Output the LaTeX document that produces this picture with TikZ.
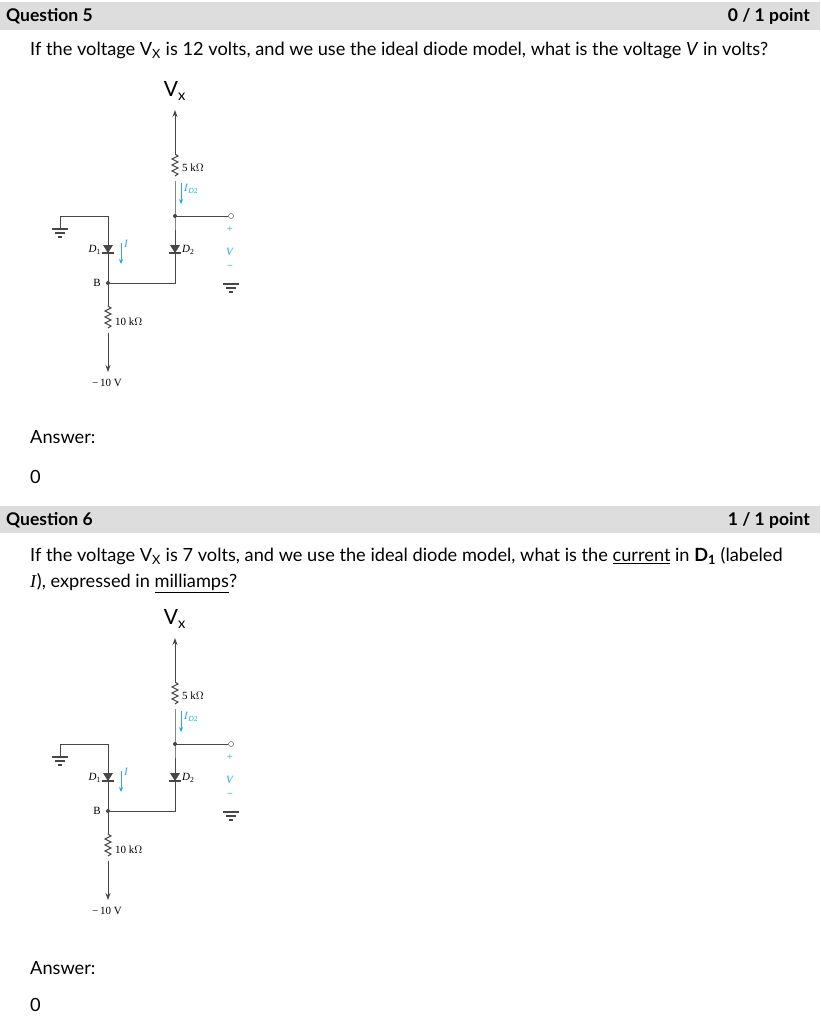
\documentclass[tikz,border=0pt]{standalone}
\usepackage{fontspec}
\setmainfont{Lato}
\newfontfamily\ckt{Liberation Serif}
\usetikzlibrary{arrows.meta}
\definecolor{hdr}{RGB}{221,221,221}
\definecolor{lblue}{RGB}{40,170,225}
\definecolor{wire}{RGB}{70,70,70}
\tikzset{
  w/.style={draw=wire,line width=1pt},
  lbl/.style={font=\ckt\fontsize{11}{12}\selectfont,inner sep=1pt},
  blbl/.style={lbl,text=lblue},
  qtext/.style={anchor=west,inner sep=0pt,font=\fontsize{18.2}{22}\selectfont},
  hfont/.style={font=\bfseries\fontsize{17.5}{20}\selectfont},
  dot/.style={circle,fill=wire,inner sep=0pt,minimum size=4pt},
}
\newcommand{\zig}[3]{% x, ytop, ybot
  \draw[w] (#1,#2) -- ++(3,2) -- ++(-6,3) -- ++(6,3) -- ++(-6,3) -- ++(6,3) -- ++(-6,3) -- ++(6,3) -- ++(-3,2);}
\newcommand{\diode}[2]{% x,y centre, points down
  \fill[wire] (#1-5,#2-4) -- (#1+5,#2-4) -- (#1,#2+4) -- cycle;
  \draw[wire,line width=1.3pt] (#1-6,#2+4) -- (#1+6,#2+4);}
\newcommand{\gnd}[2]{%
  \draw[wire,line width=1.2pt] (#1-8,#2) -- (#1+8,#2) (#1-5,#2+4) -- (#1+5,#2+4) (#1-2,#2+8) -- (#1+2,#2+8);}
\newcommand{\circuit}{%
  \node (vx) at (175,91) {\fontsize{21}{23}\selectfont V\textsubscript{x}};
  \coordinate (top) at (175,110);
  \coordinate (r1t) at (175,154);
  \coordinate (r1b) at (175,181);
  \coordinate (j) at (175,216);
  \node[circle,draw=wire,inner sep=0pt,minimum size=5pt,fill=white] (term) at (231,216) {};
  \coordinate (d2) at (175,249);
  \coordinate (bj) at (175,283);
  \node[dot] (b) at (108,283) {};
  \coordinate (d1) at (108,249);
  \coordinate (lt) at (108,216);
  \coordinate (lg) at (60,216);
  \coordinate (r2t) at (108,306);
  \coordinate (r2b) at (108,333);
  \coordinate (bot) at (108,372);
  \draw[w,-{Stealth[length=7pt,width=5pt]}] (r1t) -- (top);
  \zig{175}{154}{181}
  \draw[w] (r1b) -- (j) -- (175,245);
  \node[dot] at (j) {};
  \draw[w] (j) -- (term);
  \diode{175}{249}
  \draw[w] (175,253) -- (bj) -- (b);
  \draw[w] (lg) -- (lt) -- (108,245);
  \draw[w] (lg) -- (60,229);
  \gnd{60}{229}
  \diode{108}{249}
  \draw[w] (108,253) -- (b) -- (r2t);
  \zig{108}{306}{333}
  \draw[w,-{Stealth[length=7pt,width=5pt]}] (r2b) -- (bot);
  \gnd{231}{284}
  \node[lbl,anchor=west] at (181,168) {5 k$\Omega$};
  \node[lbl,anchor=west] at (114,322) {10 k$\Omega$};
  \node[lbl] at (107,383) {\textminus\,10 V};
  \node[lbl,anchor=east] at (102,250) {\textit{D}\textsubscript{1}};
  \node[lbl,anchor=west] at (181,250) {\textit{D}\textsubscript{2}};
  \node[lbl,anchor=east] at (102,283) {B};
  \draw[lblue,line width=1pt,-{Stealth[length=5pt,width=4pt]}] (181,183) -- (181,204);
  \node[blbl,anchor=west] at (183,189) {\textit{I}\textsubscript{\textit{D}2}};
  \draw[lblue,line width=1pt,-{Stealth[length=5pt,width=4pt]}] (121,243) -- (121,264);
  \node[blbl,anchor=west] at (123,244) {\textit{I}};
  \node[blbl] at (230,229) {+};
  \node[blbl] at (230,252) {\textit{V}};
  \node[blbl] at (230,268) {\textminus};
}
\begin{document}
\begin{tikzpicture}[x=1pt,y=-1pt]
\useasboundingbox (0,0) rectangle (820,1020);
\fill[white] (0,0) rectangle (820,1020);
% Question 5
\fill[hdr] (0,2) rectangle (820,30);
\node[anchor=west,inner sep=0pt,hfont] (q5) at (6,16) {Question 5};
\node[anchor=east,inner sep=0pt,hfont] (p5) at (810,16) {0 / 1 point};
\node[qtext] (t5) at (30,50) {If the voltage V\textsubscript{X} is 12 volts, and we use the ideal diode model, what is the voltage \textit{V} in volts?};
\begin{scope}[name prefix=a-]\circuit\end{scope}
\node[qtext] (a5) at (30,437) {Answer:};
\node[qtext] (z5) at (30,477) {0};
% Question 6
\fill[hdr] (0,506) rectangle (820,533);
\node[anchor=west,inner sep=0pt,hfont] (q6) at (6,520) {Question 6};
\node[anchor=east,inner sep=0pt,hfont] (p6) at (810,520) {1 / 1 point};
\node[qtext] (t6) at (30,556) {If the voltage V\textsubscript{X} is 7 volts, and we use the ideal diode model, what is the \underline{current} in \textbf{D\textsubscript{1}} (labeled};
\node[qtext] (t6b) at (30,583) {{\ckt\textit{I}}), expressed in \underline{milliamps}?};
\begin{scope}[name prefix=b-,yshift=-528pt]\circuit\end{scope}
\node[qtext] (a6) at (30,968) {Answer:};
\node[qtext] (z6) at (30,1005) {0};
\end{tikzpicture}
\end{document}
